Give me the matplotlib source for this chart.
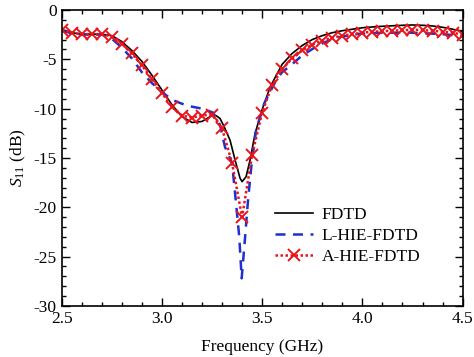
import numpy as np
import matplotlib
matplotlib.use("Agg")
import matplotlib.pyplot as plt
from matplotlib.ticker import MultipleLocator

plt.rcParams['font.family'] = ['Liberation Serif', 'DejaVu Serif']
plt.rcParams['mathtext.fontset'] = 'custom'
plt.rcParams['mathtext.rm'] = 'Liberation Serif'
plt.rcParams['mathtext.it'] = 'Liberation Serif:italic'
plt.rcParams['axes.unicode_minus'] = False

# FDTD reference (black solid)
f_fdtd = [2.50, 2.55, 2.60, 2.65, 2.70, 2.75, 2.80, 2.85, 2.90, 2.95, 3.00, 3.05,
          3.10, 3.15, 3.20, 3.25, 3.27, 3.29, 3.31, 3.34, 3.365, 3.39, 3.40, 3.42,
          3.44, 3.465, 3.50, 3.54, 3.60, 3.65, 3.70, 3.75, 3.80, 3.85, 3.90, 3.95,
          4.00, 4.05, 4.10, 4.15, 4.20, 4.25, 4.30, 4.35, 4.40, 4.45, 4.50]
s_fdtd = [-2.0, -2.3, -2.45, -2.45, -2.45, -2.6, -3.2, -4.1, -5.2, -6.6, -8.1, -9.6,
          -10.8, -11.4, -11.3, -10.7, -10.7, -11.0, -11.8, -13.2, -15.2, -17.05, -17.4, -16.9,
          -15.2, -12.5, -10.1, -7.8, -5.5, -4.4, -3.6, -3.0, -2.6, -2.3, -2.1, -1.95,
          -1.8, -1.72, -1.65, -1.6, -1.55, -1.52, -1.55, -1.62, -1.75, -1.95, -2.2]

# L-HIE-FDTD (blue dashed)
f_lhie = [2.50, 2.55, 2.60, 2.65, 2.70, 2.75, 2.80, 2.85, 2.90, 2.95, 3.00, 3.05,
          3.10, 3.15, 3.20, 3.255, 3.29, 3.315, 3.35, 3.37, 3.386, 3.398, 3.414, 3.43,
          3.448, 3.47, 3.51, 3.57, 3.60, 3.655, 3.70, 3.755, 3.80, 3.855, 3.90, 3.99,
          4.05, 4.10, 4.15, 4.24, 4.30, 4.35, 4.40, 4.45, 4.50]
s_lhie = [-2.1, -2.35, -2.5, -2.5, -2.5, -2.9, -3.8, -4.9, -6.3, -7.4, -8.3, -9.1,
          -9.5, -9.8, -10.0, -10.4, -11.65, -13.9, -15.5, -19.6, -23.0, -27.2, -23.3, -19.2,
          -15.5, -12.2, -9.5, -7.1, -6.3, -5.4, -4.6, -3.9, -3.4, -2.9, -2.7, -2.4,
          -2.35, -2.3, -2.3, -2.3, -2.35, -2.4, -2.45, -2.55, -2.7]

# A-HIE-FDTD (red dotted with markers)
f_ahie = [2.50, 2.55, 2.60, 2.65, 2.70, 2.75, 2.80, 2.85, 2.90, 2.95, 3.00, 3.05,
          3.10, 3.15, 3.20, 3.25, 3.30, 3.35, 3.40, 3.45, 3.50, 3.55, 3.60, 3.65,
          3.70, 3.75, 3.80, 3.85, 3.90, 3.95, 4.00, 4.05, 4.10, 4.15, 4.20, 4.25,
          4.30, 4.35, 4.40, 4.45, 4.50]
s_ahie = [-2.0, -2.3, -2.45, -2.45, -2.45, -2.7, -3.4, -4.4, -5.6, -7.0, -8.4, -9.8,
          -10.7, -10.9, -10.7, -10.6, -12.0, -15.5, -21.0, -14.7, -10.4, -7.6, -6.0, -4.9,
          -4.1, -3.5, -3.1, -2.8, -2.6, -2.45, -2.3, -2.2, -2.15, -2.1, -2.05, -2.0,
          -2.05, -2.1, -2.2, -2.3, -2.5]

fig = plt.figure(figsize=(4.74, 3.57), dpi=100)
ax = fig.add_axes([0.130, 0.143, 0.846, 0.829])

ax.plot(f_fdtd, s_fdtd, color='black', lw=1.2, label='FDTD')
ax.plot(f_lhie, s_lhie, color='#1f2fd0', lw=1.8, ls=(0, (4, 3)), label='L-HIE-FDTD')
ax.plot(f_ahie, s_ahie, color='#e8141a', lw=1.8, ls=(0, (1, 1)), marker='x',
        ms=8, mew=1.4, label='A-HIE-FDTD')

ax.set_xlim(2.5, 4.5)
ax.set_ylim(-30, 0)
ax.xaxis.set_major_locator(MultipleLocator(0.5))
ax.xaxis.set_minor_locator(MultipleLocator(0.1))
ax.yaxis.set_major_locator(MultipleLocator(5))
ax.yaxis.set_minor_locator(MultipleLocator(1))
ax.xaxis.set_major_formatter(plt.FormatStrFormatter('%.1f'))
ax.tick_params(which='both', direction='in', top=True, right=True, labelsize=12.5)
ax.tick_params(which='major', length=6, width=1)
ax.tick_params(which='minor', length=3, width=1)
for sp in ax.spines.values():
    sp.set_linewidth(1.2)

ax.set_xlabel('Frequency (GHz)', fontsize=12.5, labelpad=9)
ax.set_ylabel(r'$S_{11}$ (dB)', fontsize=12.5, labelpad=4)

ax.legend(loc='upper left', bbox_to_anchor=(0.532, 0.336), frameon=False, fontsize=12.5,
          handlelength=2.2, handletextpad=0.5, labelspacing=0.3, borderpad=0,
          borderaxespad=0)

fig.savefig('out.png', dpi=100)
